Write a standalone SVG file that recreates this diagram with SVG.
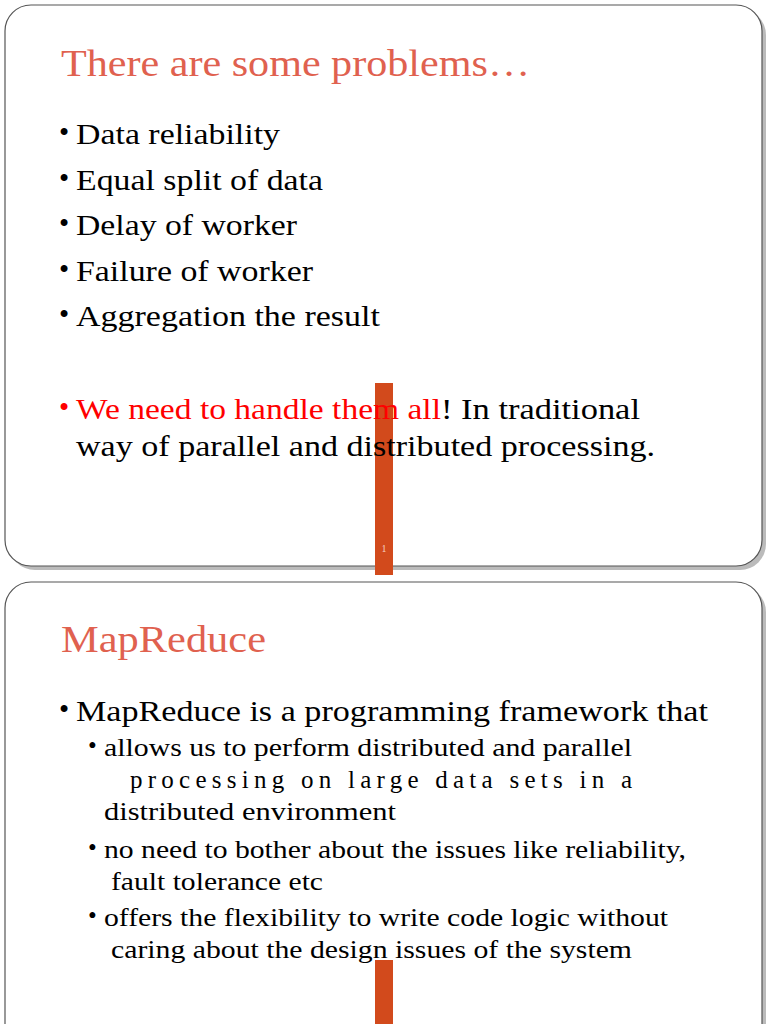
<svg xmlns="http://www.w3.org/2000/svg" width="768" height="1024" viewBox="0 0 768 1024">
<style>
.slide{fill:#fff;stroke:#555;stroke-width:1.2}
.t{font-family:"Liberation Serif",serif;fill:#000}
.title{font-family:"Liberation Serif",serif;fill:#e0614f;font-size:38px}
.b{font-size:29px}
.s{font-size:25px}
.red{fill:#ff0000}
.bar{fill:#d24a1c}
</style>
<rect width="768" height="1024" fill="#fff"/>
<g id="slide1">
<rect x="7" y="7" width="757" height="561" rx="26" fill="#bbb" transform="translate(2,2)"/>
<rect class="slide" x="5" y="5" width="757" height="561" rx="26"/>
<rect class="bar" x="375" y="383" width="18" height="192"/>
<text class="title" x="61" y="76" textLength="469" lengthAdjust="spacingAndGlyphs">There are some problems…</text>
<g class="t b">
<text x="59" y="142">•</text><text x="76" y="144" textLength="204" lengthAdjust="spacingAndGlyphs">Data reliability</text>
<text x="59" y="188">•</text><text x="76" y="190" textLength="247" lengthAdjust="spacingAndGlyphs">Equal split of data</text>
<text x="59" y="233">•</text><text x="76" y="235" textLength="221" lengthAdjust="spacingAndGlyphs">Delay of worker</text>
<text x="59" y="279">•</text><text x="76" y="281" textLength="237" lengthAdjust="spacingAndGlyphs">Failure of worker</text>
<text x="59" y="324">•</text><text x="76" y="326" textLength="304" lengthAdjust="spacingAndGlyphs">Aggregation the result</text>
<text x="59" y="417" class="red">•</text><text x="76" y="419" class="red" textLength="365" lengthAdjust="spacingAndGlyphs">We need to handle them all</text>
<text x="441" y="419" textLength="199" lengthAdjust="spacingAndGlyphs">! In traditional</text>
<text x="76" y="456" textLength="579" lengthAdjust="spacingAndGlyphs">way of parallel and distributed processing.</text>
</g>
<text x="384" y="552" font-family="Liberation Serif,serif" font-size="10" fill="#f5d0c0" text-anchor="middle">1</text>
</g>
<g id="slide2">
<rect x="7" y="584" width="757" height="480" rx="26" fill="#bbb" transform="translate(2,2)"/>
<rect class="slide" x="5" y="582" width="757" height="480" rx="26"/>
<rect class="bar" x="375" y="960" width="18" height="64"/>
<text class="title" x="61" y="652" textLength="205" lengthAdjust="spacingAndGlyphs">MapReduce</text>
<g class="t">
<text class="b" x="59" y="719">•</text><text class="b" x="76" y="721" textLength="632" lengthAdjust="spacingAndGlyphs">MapReduce is a programming framework that</text>
<text class="s" x="88" y="754">•</text><text class="s" x="104" y="756" textLength="528" lengthAdjust="spacingAndGlyphs">allows us to perform distributed and parallel</text>
<text class="s" x="130" y="788" textLength="502" lengthAdjust="spacing">processing on large data sets in a</text>
<text class="s" x="104" y="820" textLength="292" lengthAdjust="spacingAndGlyphs">distributed  environment</text>
<text class="s" x="88" y="856">•</text><text class="s" x="104" y="858" textLength="582" lengthAdjust="spacingAndGlyphs">no need to bother about the issues like reliability,</text>
<text class="s" x="111" y="890" textLength="212" lengthAdjust="spacingAndGlyphs">fault tolerance etc</text>
<text class="s" x="88" y="924">•</text><text class="s" x="104" y="926" textLength="564" lengthAdjust="spacingAndGlyphs">offers the flexibility to write code logic without</text>
<text class="s" x="111" y="958" textLength="521" lengthAdjust="spacingAndGlyphs">caring about the design issues of the system</text>
</g>
</g>
</svg>
